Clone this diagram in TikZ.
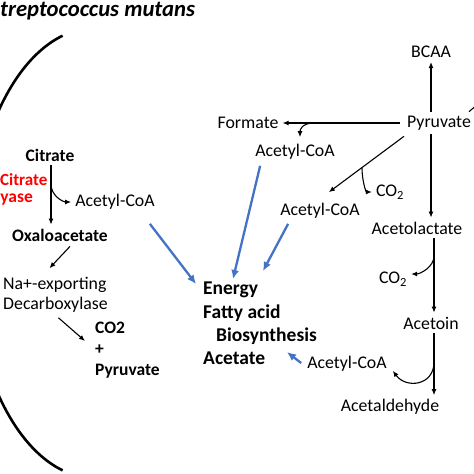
\documentclass[tikz,border=0pt]{standalone}
\usepackage{fontspec}
\setmainfont{Carlito}
\usetikzlibrary{arrows.meta}

\definecolor{feedblue}{RGB}{68,114,196}
\tikzset{
  lbl/.style={inner sep=4pt, font=\fontsize{17.8}{20}\selectfont},
  blbl/.style={inner sep=4pt, font=\fontsize{17.5}{21}\selectfont\bfseries},
  rxn/.style={-{Latex[length=6pt,width=5pt]}, line width=1.1pt},
  feed/.style={-{Latex[length=9pt,width=8pt]}, line width=2.3pt, draw=feedblue},
  membrane/.style={line width=2.6pt},
}

\begin{document}
\begin{tikzpicture}[x=1pt,y=-1pt]
\useasboundingbox (0,0) rectangle (474,474);
\clip (0,0) rectangle (474,474);

\draw[membrane] (62.6,35.7) arc[start angle=-105, end angle=-255, x radius=124, y radius=225];
\node[inner sep=0pt, anchor=base west, font=\fontsize{22.7}{26}\selectfont\bfseries\itshape] (Title) at (0,16) {treptococcus mutans};

\node[blbl](Citrate) at (50,155) {Citrate};
\node[blbl, text=red, anchor=east, font=\fontsize{17}{21}\selectfont\bfseries](LyaseA) at (51.5,180) {Citrate};
\node[blbl, text=red, anchor=east](LyaseB) at (37,200) {yase};
\node[lbl](AcCoA1) at (115,202) {Acetyl-CoA};
\node[blbl](Oxalo) at (60,235) {Oxaloacetate};
\node[lbl, align=left, anchor=west](NaDecarb) at (-1,295) {Na+-exporting\\Decarboxylase};
\node[blbl, align=left, anchor=north west](CO2Pyr) at (91,318) {CO2\\+\\Pyruvate};
\node[inner sep=2pt, align=left, anchor=north west, font=\fontsize{19.5}{23.3}\selectfont\bfseries](Products) at (201,280) {Energy\\Fatty acid\\\hspace*{13pt}Biosynthesis\\Acetate};

\node[lbl](BCAA) at (431,52) {BCAA};
\node[lbl](Pyruvate) at (439,123) {Pyruvate};
\node[lbl](Formate) at (248,123) {Formate};
\node[lbl](AcCoA2) at (295,152) {Acetyl-CoA};
\node[lbl](CO2a) at (390,192) {CO\textsubscript{2}};
\node[lbl](AcCoA3) at (320,211) {Acetyl-CoA};
\node[lbl](Acetolactate) at (417,228) {Acetolactate};
\node[lbl](CO2b) at (393,279) {CO\textsubscript{2}};
\node[lbl](Acetoin) at (431,323) {Acetoin};
\node[lbl](AcCoA4) at (347,364) {Acetyl-CoA};
\node[lbl](Acetaldehyde) at (390,407) {Acetaldehyde};

\coordinate (OffLeft) at (-20,302);
\coordinate (OffRight) at (492,92);
\coordinate (LyaseFork) at (51,184);
\coordinate (FormFork) at (312,123);
\coordinate (DiagFork) at (362,168);
\coordinate (LactFork) at (434,256);
\coordinate (ToinFork) at (434,362);

\draw[rxn] ([xshift=1pt]Citrate.south) -- ([xshift=1pt]Citrate.south |- Oxalo.north);
\draw[rxn] (LyaseFork) .. controls +(0,12) and +(-8,0) .. (AcCoA1.west);
\draw[rxn] ([shift={(10pt,-1pt)}]Oxalo.south) -- ([shift={(-6pt,5pt)}]NaDecarb.north);
\draw[rxn] ([shift={(3pt,-1pt)}]NaDecarb.south) -- ([shift={(-6pt,-23pt)}]CO2Pyr.north west);

\draw[feed] (OffLeft) -- (NaDecarb.west);
\draw[feed] ([shift={(-9pt,-10pt)}]AcCoA1.south east) -- ([shift={(-5pt,-4pt)}]Products.north west);
\draw[feed] ([shift={(9pt,-2pt)}]AcCoA2.south west) -- ([shift={(32pt,1pt)}]Products.north west);
\draw[feed] ([shift={(12pt,-1pt)}]AcCoA3.south west) -- ([shift={(62pt,9pt)}]Products.north west);
\draw[feed] ([shift={(-2pt,1pt)}]AcCoA4.west) -- ([shift={(-32pt,15pt)}]Products.south east);

\draw[rxn] (BCAA.south |- Pyruvate.north) -- (BCAA.south);
\draw[rxn] ([xshift=-6pt]Pyruvate.north east) -- (OffRight);
\draw[rxn] ([xshift=-3pt]Pyruvate.west) -- (Formate.east);
\draw[rxn] (FormFork) .. controls +(-10,1) and +(0,-8) .. ([shift={(5pt,3pt)}]AcCoA2.north);
\draw[rxn] ([shift={(1pt,-2pt)}]Pyruvate.south west) -- ([shift={(-35pt,7pt)}]AcCoA3.north east);
\draw[rxn] (DiagFork) .. controls +(0,12) and +(-6,0) .. (CO2a.west);
\draw[rxn] (BCAA.south |- Pyruvate.south) -- (BCAA.south |- Acetolactate.north);
\draw[rxn] ([xshift=3pt]Acetoin.north |- Acetolactate.south) -- ([xshift=3pt]Acetoin.north);
\draw[rxn] (LactFork) .. controls +(0,11) and +(9,0) .. ([yshift=5pt]CO2b.east);
\draw[rxn] ([xshift=3pt]Acetoin.south) -- ([xshift=3pt]Acetoin.south |- Acetaldehyde.north);
\draw[rxn] (ToinFork) .. controls +(0,24) and +(13,18) .. ([shift={(2pt,5pt)}]AcCoA4.south east);
\end{tikzpicture}
\end{document}
